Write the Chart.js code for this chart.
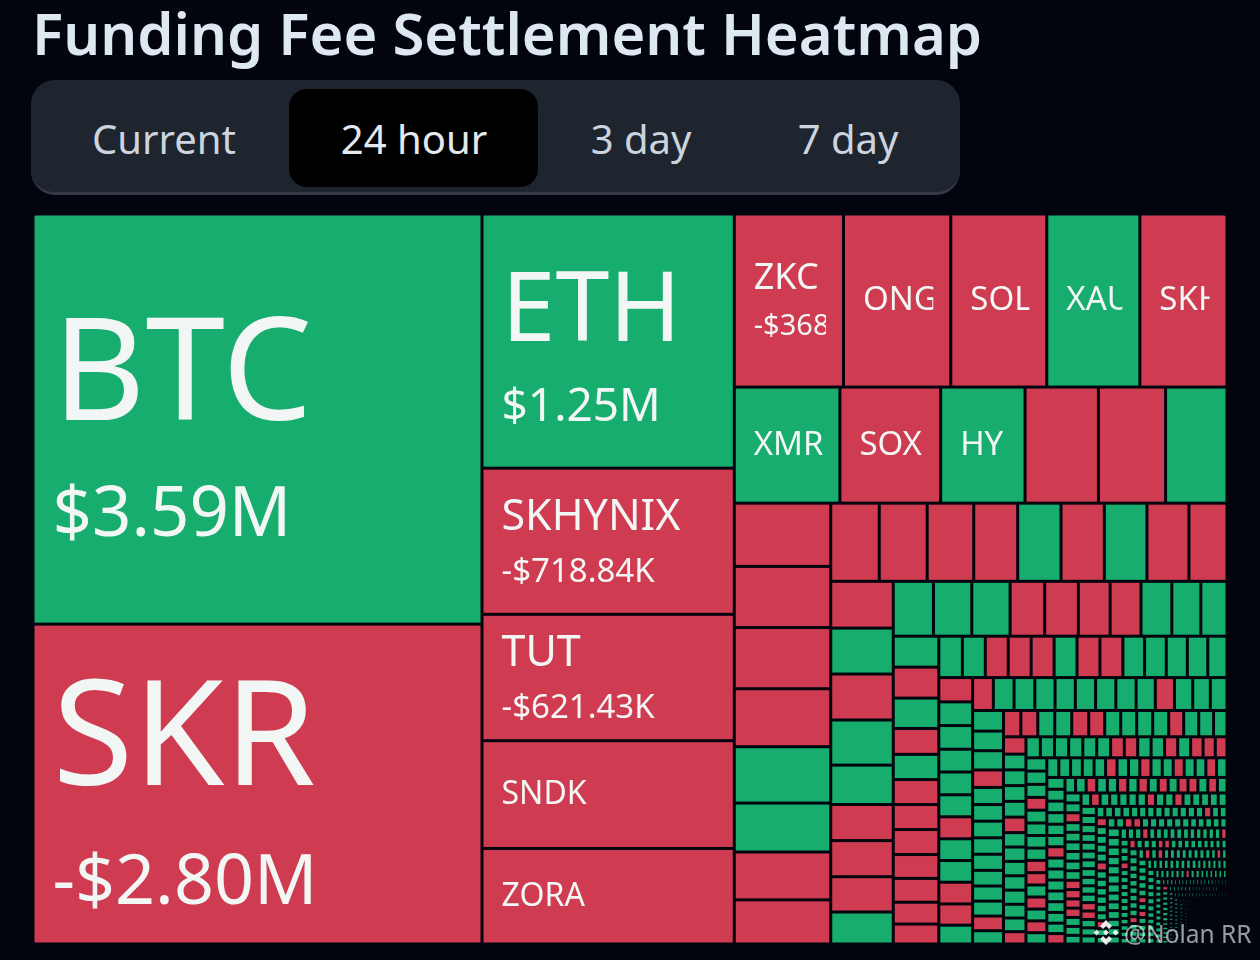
<!DOCTYPE html>
<html>
<head>
<meta charset="utf-8">
<title>Funding Fee Settlement Heatmap</title>
<script src="https://cdn.jsdelivr.net/npm/chart.js@4/dist/chart.umd.js"></script>
<style>
	html, body { margin: 0; width: 1260px; height: 960px; overflow: hidden; background: #02040e; font-family: "Noto Sans", sans-serif; }
	h1 { position: absolute; left: 32px; top: -9px; margin: 0; font-size: 58px; line-height: 84px; font-weight: 600; color: #dde8f1; white-space: nowrap; }
	#tabs { position: absolute; left: 31px; top: 80px; width: 929px; height: 112px; background: #1f252e; border-bottom: 3px solid #333a45; border-radius: 24px; }
	#active { position: absolute; left: 258px; top: 9px; width: 249px; height: 98px; background: #000; border-radius: 18px; }
	.tab { position: absolute; top: 32px; transform: translateX(-50%); font-size: 40px; line-height: 54px; color: #cbd4df; white-space: nowrap; }
	.tab.on { color: #e4e8ef; }
	#heatmap { position: absolute; left: 33px; top: 214px; border-radius: 6px; }
	#mark { position: absolute; left: 1124px; top: 917px; font-size: 24.500px; line-height: 34px; color: rgba(255, 255, 255, 0.6); white-space: nowrap; }
	#logo { position: absolute; left: 1092px; top: 920px; }
</style>
</head>
<body>
<h1>Funding Fee Settlement Heatmap</h1>
<div id="tabs">
	<div id="active"></div>
	<div class="tab" style="left:133px">Current</div>
	<div class="tab on" style="left:383px">24 hour</div>
	<div class="tab" style="left:610px">3 day</div>
	<div class="tab" style="left:817px">7 day</div>
</div>
<canvas id="heatmap" width="1194" height="730"></canvas>
<svg id="logo" width="28" height="28" viewBox="0 0 28 28" fill="rgba(255,255,255,0.9)">
	<path d="M14 0l6 6-3 3-3-3-3 3-3-3zM4.500 9.500l3 3-3 3-3-3zM23.500 9.500l3 3-3 3-3-3zM14 9.500l3 3-3 3-3-3zM8 19l3-3 3 3 3-3 3 3-6 6z"/>
</svg>
<div id="mark">@Nolan RR</div>
<script>
// fees in $K, negative = paid (red). one array per strip of the treemap
const symbols = ['BTC', 'SKR', 'ETH', 'SKHYNIX', 'TUT', 'SNDK', 'ZORA', 'ZKC', 'ONG', 'SOL', 'XAU', 'SKHX', 'XMR', 'SOX', 'HY'];
const s01 = [3590, -2800];
const s02 = [1250, -718.84, -621.43, -530, -470];
const s03 = [-368.42, -362, -324, 314, -294];
const s04 = [239, -228, 191, -166, -152, 139];
const s05 = [-119, -115, -115, -109, 106, 92, -90, -83];
const s06 = [-74, -73, -71, -67, 66, -66, 65, -64, -58];
const s07 = [-57, 56, -56, 55, 48, -44, -44, -43, 39];
const s08 = [43, 41, 41, -37, -36, -34, -33, 33, 31, 28];
const s09 = [27.5, -27.5, 27, -23, 22.4, -22.2, -22.2, -22.2, -21.2, -21.2, -19.4, -17.7];
const s10 = [19, 18.5, -18.5, -18.5, -18.5, 18.5, -18.5, -18.5, 17.5, 17.5, 17, 16.5, 15.5];
const s11 = [-16, 15.6, 15.6, 15, 15, 14.5, -14.5, 14.3, 14.3, -14.3, -14, 12.4];
const s12 = [-13.3, 13.3, 13.3, 13, 13, 13, 13, 13, 12.3, -12.3, 11.7, 11.3, 10.7];
const s13 = [12.4, 11.8, 11.6, -10.5, 10.3, 10, 10, 9.9, 9.7, 9.4, 9.1, 9, -8.8, 8];
const s14 = [-8.9, -8.7, 8.7, 8.7, -8.7, -8.2, 8.2, 8.2, 8.2, 8.2, -7.7, 7.7, 7.6, 6.9];
const s15 = [-7.6, 6.9, 6.9, 6.9, 6.9, -6.8, 6.3, 6.3, 6.3, 6.3, 6.2, 6, 6, -5.4];
const s16 = [5.9, 5.8, 5.8, 5.8, 5.7, 5.7, -5.6, -5.5, 5.5, 5.5, -5.4, 5.3, -5.1, -5, -4.8];
const s17 = [5.4, 5.4, 5.3, -5.2, 5.2, 5.1, 5.1, 5, -5, -5, 4.9, -4.9, 4.8, -4.8, 4.6];
const s18 = [4.6, 4.5, 4.5, 4.5, 4.4, -4.4, 4.4, 4.3, -4.3, 4.3, 4.2, -4.2, 4.2, 4.1, -4.1, 4];
const s19 = [4.2, 4.2, 4.1, 4.1, 4, 4, -4, 3.9, 3.9, 3.9, 3.8, 3.8, 3.8, 3.7, -3.7];
const s20 = [3.2, 3.2, -3.2, 3.2, 3.1, -3.1, 3.1, -3.1, 3, -3, 3, -3, -3, 3, -2.9, 2.9];
const s21 = [3.1, 3.1, -3.1, 3, 3, 3, 3, 3, 3, -2.9, -2.9, -2.9, -2.9, 2.8, 2.8, 2.7];
const s22 = [2.5, -2.5, 2.5, 2.4, 2.4, 2.4, 2.4, -2.4, 2.4, 2.4, -2.4, 2.3, 2.3, 2.3, 2.3, 2.3];
const s23 = [2.7, 2.7, 2.7, 2.6, 2.6, 2.6, 2.6, 2.6, 2.5, 2.5, 2.5, -2.5, -2.5, 2.5, 2.4, 2.4];
const s24 = [1.9, 1.9, 1.9, 1.9, 1.8, 1.8, 1.8, 1.8, 1.8, 1.8, 1.8, 1.8, 1.8, -1.8, 1.7, 1.7];
const s25 = [-1.9, 1.9, 1.9, 1.9, 1.9, -1.9, 1.8, 1.8, 1.8, 1.8, 1.8, 1.7, -1.7, 1.7, 1.6];
const s26 = [1.7, 1.7, -1.7, -1.7, 1.6, 1.6, 1.6, 1.6, 1.6, 1.6, 1.5, 1.5, 1.5, 1.5, 1.4];
const s27 = [2.4, 2.4, 2.4, 2.3, 2.3, 2.3, 2.3, 2.2, 2.2, 2.2, 2.1, 2.1, 2];
const s28 = [1.6, 1.6, 1.6, -1.6, 1.5, 1.5, 1.5, 1.5, 1.5, 1.5, 1.4, 1.4, 1.4, 1.4, 1.4, -1.4];
const s29 = [1.3, 1.3, 1.3, -1.3, 1.2, 1.2, 1.2, 1.2, 1.2, 1.2, 1.2, 1.1, 1.1, 1.1, 1.1];
const s30 = [-1.3, 1.3, 1.3, 1.3, -1.2, -1.2, 1.2, 1.2, 1.2, 1.2, 1.2, 1.1, 1.1, 1.1, 1.1];
const s31 = [1.4, 1.4, 1.3, 1.3, 1.3, 1.3, 1.3, 1.3, 1.3, -1.2, 1.2, 1.2, 1.2];
const s32 = [1.3, -1.3, 1.3, -1.3, 1.2, 1.2, 1.2, 1.2, 1.2, 1.2, 1.2, 1.2, 1.1, -1.1, 1.1];
const s33 = [1.3, 1.3, 1.3, 1.3, 1.3, -1.2, 1.2, -1.2, 1.2, 1.2, 1.1, 1.1];
const s34 = [1.1, 1.1, 1.1, 1.1, 1.1, 1.1, 1.1, 1.1, 1.1, 1, 1, 1, 1, 1, 1];
const s35 = [1.1, 1.1, 1.1, 1.1, 1.1, 1.1, 1, 1, 1, 1, 1];
const s36 = [0.9, 0.9, 0.9, 0.9, 0.9, 0.9, -0.9, 0.9, 0.9, 0.8, 0.8, 0.8, 0.8, 0.8, 0.8];
const s37 = [0.9, 0.8, 0.8, 0.8, 0.8, 0.8, 0.8, 0.8, 0.8, 0.8, 0.7];
const s38 = [0.55, 0.55, 0.55, 0.5, 0.5, 0.5, 0.5, 0.5, 0.5, 0.5, 0.5, 0.5, 0.5, 0.5, 0.45, 0.45, 0.45, 0.45];
const s39 = [-0.7, 0.7, 0.7, 0.7, 0.7, 0.7, 0.7, 0.6, 0.6, 0.6, 0.6, 0.6];
const s40 = [0.45, 0.45, 0.45, 0.45, 0.45, -0.45, 0.4, 0.4, 0.4, 0.4, 0.4, 0.4, 0.4, 0.4, 0.35, 0.35, 0.35];
const s41 = [0.45, 0.42, 0.42, 0.4, 0.4, 0.4, 0.4, 0.38, 0.38, 0.38, 0.36, 0.36, 0.35];
const s42 = [0.42, 0.42, 0.42, 0.41, 0.41, 0.41, 0.4, 0.4, 0.4, 0.4, 0.39, 0.39, 0.39, 0.38, 0.38, 0.38];
const s43 = [0.4, 0.4, 0.39, 0.39, 0.38, 0.38, 0.37, 0.37, 0.36, 0.36, 0.35, 0.35];
const s44 = [0.32, 0.32, 0.31, 0.31, 0.3, 0.3, 0.3, 0.3, 0.3, 0.3, 0.3, 0.29, 0.29, 0.29, 0.28, 0.28];
const s45 = [0.36, 0.35, 0.35, 0.34, 0.34, 0.33, 0.33, 0.33, 0.32, 0.32, 0.32, 0.31];
const s46 = [0.3, 0.3, 0.3, 0.3, 0.29, 0.29, 0.29, 0.29, 0.29, 0.28, 0.28, 0.28, 0.28, 0.28, 0.27];
const s47 = [0.28, 0.28, 0.28, 0.27, 0.27, 0.27, 0.26, 0.26, 0.26, 0.25, 0.25];
const s48 = [0.25, 0.25, 0.25, 0.24, 0.24, 0.24, 0.24, 0.23, 0.23, 0.23, 0.23, 0.22, 0.22, 0.22];
const s49 = [
	0.4, 0.4, 0.4, 0.4, 0.4, 0.4, 0.4, 0.4, 0.4, 0.4, 0.4, 0.4, 0.4, 0.4, 0.4,
	0.4, 0.4, 0.4, 0.4, 0.4, 0.4, 0.4, 0.4, 0.4, 0.4, 0.4, 0.4, 0.4, 0.4, 0.4,
	0.4, 0.4, 0.4, 0.4, 0.4, 0.4, 0.4, 0.4, 0.4, 0.4, 0.4, 0.4, 0.4, 0.4, 0.4,
	0.4, 0.4, 0.4, 0.4, 0.4, 0.4, 0.4, 0.4, 0.4, 0.4, 0.4, 0.4, 0.4, 0.4, 0.4
];
const strips = [s01, s02, s03, s04, s05, s06, s07, s08, s09, s10, s11, s12, s13, s14, s15, s16, s17, s18, s19, s20, s21, s22, s23, s24, s25,
	s26, s27, s28, s29, s30, s31, s32, s33, s34, s35, s36, s37, s38, s39, s40, s41, s42, s43, s44, s45, s46, s47, s48, s49];

const GREEN = '#16ad6e';
const RED = '#cf3b50';
const CELL_GAP = 3;
const AREA_W = 1192, AREA_H = 728;

const sumOf = function (list) {
	return list.reduce(function (a, b) { return a + Math.abs(b); }, 0);
};

// slice-and-dice along the strips: two columns, two rows, then they alternate
function layoutStrips() {
	const cells = [];
	let x = 0, y = 0, w = AREA_W, h = AREA_H;
	let left = strips.reduce(function (a, s) { return a + sumOf(s); }, 0);
	strips.forEach(function (strip, i) {
		const asColumn = i < 2 || (i >= 4 && i % 2 === 0);
		const share = sumOf(strip) / left;
		let pos = asColumn ? y : x;
		strip.forEach(function (v) {
			const part = Math.abs(v) / sumOf(strip);
			if (asColumn) {
				cells.push({ x: x, y: pos, w: w * share, h: h * part, v: v });
				pos += h * part;
			} else {
				cells.push({ x: pos, y: y, w: w * part, h: h * share, v: v });
				pos += w * part;
			}
		});
		if (asColumn) { x += w * share; w -= w * share; } else { y += h * share; h -= h * share; }
		left -= sumOf(strip);
	});
	return cells;
}

class TreemapController extends Chart.DatasetController {
	update(mode) {
		const meta = this.getMeta();
		this.updateElements(meta.data, 0, meta.data.length, mode);
	}
	updateElements(rects, start, count, mode) {
		const meta = this.getMeta();
		const data = this.getDataset().data;
		for (let i = start; i < start + count; i++) {
			const c = data[i];
			const l = meta.xScale.getPixelForValue(c.x) + CELL_GAP / 2;
			const r = meta.xScale.getPixelForValue(c.x + c.w) - CELL_GAP / 2;
			const t = meta.yScale.getPixelForValue(c.y) + CELL_GAP / 2;
			const b = meta.yScale.getPixelForValue(c.y + c.h) - CELL_GAP / 2;
			const visible = r > l && b > t;
			this.updateElement(rects[i], i, {
				x: (l + r) / 2,
				y: t,
				base: visible ? b : t,
				width: visible ? r - l : 0,
				height: visible ? b - t : 0,
				horizontal: false,
				borderSkipped: {},
				options: this.resolveDataElementOptions(i, mode)
			}, mode);
		}
	}
	draw() {
		const ctx = this.chart.ctx;
		this.getMeta().data.forEach(function (el) {
			if (el.width > 0 && el.height > 0) {
				ctx.fillStyle = el.options.backgroundColor;
				ctx.fillRect(el.x - el.width / 2, el.y, el.width, el.height);
			}
		});
	}
}
TreemapController.id = 'treemap';
TreemapController.defaults = { dataElementType: 'bar' };
Chart.register(TreemapController);

function feeText(v) {
	const sign = v < 0 ? '-' : '';
	const a = Math.abs(v);
	return sign + '$' + (a >= 1000 ? (a / 1000).toFixed(2) + 'M' : a.toFixed(2) + 'K');
}

const cellLabels = {
	id: 'cellLabels',
	afterDatasetsDraw: function (chart, args, opts) {
		const ctx = chart.ctx;
		const meta = chart.getDatasetMeta(0);
		const data = chart.data.datasets[0].data;
		symbols.forEach(function (name, i) {
			const el = meta.data[i];
			const size = opts.sizes[name];
			const l = el.x - el.width / 2, t = el.y;
			const total = size[0] + (size[1] || 0);
			const mid = (el.y + el.base) / 2 - 2 - (size[1] ? 0.01 * total : 0);
			ctx.save();
			ctx.beginPath();
			ctx.rect(l, t, el.width - opts.padRight, el.base - el.y);
			ctx.clip();
			ctx.fillStyle = '#f2f7f5';
			ctx.textAlign = 'left';
			ctx.textBaseline = 'alphabetic';
			const capMid = 0.357;
			let nameY = mid;
			if (size[1]) {
				const dist = 0.64 * total + 7;
				nameY = mid - dist * size[1] / total;
				ctx.font = size[1] + 'px "Noto Sans"';
				ctx.fillText(feeText(data[i].v), l + opts.padLeft, nameY + dist + capMid * size[1]);
			}
			ctx.font = size[0] + 'px "Noto Sans"';
			ctx.fillText(name, l + opts.padLeft, nameY + capMid * size[0]);
			ctx.restore();
		});
	}
};

const cells = layoutStrips();

new Chart(document.getElementById('heatmap'), {
	type: 'treemap',
	data: {
		datasets: [{
			data: cells,
			parsing: false,
			backgroundColor: cells.map(function (c) { return c.v < 0 ? RED : GREEN; }),
			borderWidth: 0
		}]
	},
	options: {
		responsive: false,
		animation: false,
		events: [],
		layout: { padding: 0 },
		scales: {
			x: { type: 'linear', display: false, min: 0, max: AREA_W },
			y: { type: 'linear', display: false, min: 0, max: AREA_H, reverse: true }
		},
		plugins: {
			legend: { display: false },
			tooltip: { enabled: false },
			cellLabels: {
				padLeft: 18,
				padRight: 16,
				sizes: {
					BTC: [143, 69], SKR: [147, 70], ETH: [97, 46], SKHYNIX: [43, 33], TUT: [43, 33],
					SNDK: [32], ZORA: [32], ZKC: [36, 29], ONG: [33], SOL: [33], XAU: [33], SKHX: [33],
					XMR: [33], SOX: [33], HY: [33]
				}
			}
		}
	},
	plugins: [cellLabels]
});
</script>
</body>
</html>
